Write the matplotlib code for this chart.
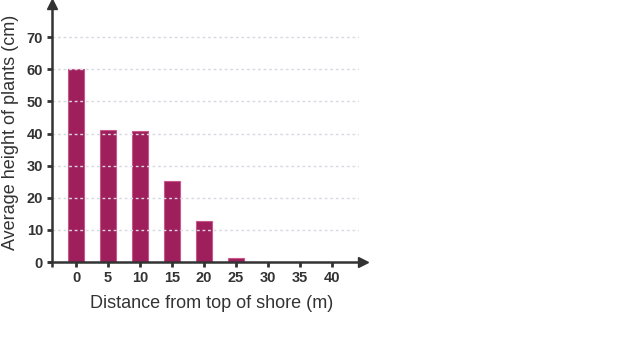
import matplotlib

matplotlib.use("Agg")
import matplotlib.pyplot as plt

# distance from top of shore (m) and average plant height (cm)
distance = [0, 5, 10, 15, 20, 25]
height = [60, 41.1, 40.7, 25.3, 12.8, 1.3]
x_ticks = [0, 5, 10, 15, 20, 25, 30, 35, 40]
y_ticks = [0, 10, 20, 30, 40, 50, 60, 70]

BAR = "#9e1f5b"
AXIS = "#333333"
GRID = "#d9d9e3"

plt.rcParams["font.family"] = ["Liberation Sans", "DejaVu Sans"]

W, H = 624, 351
fig = plt.figure(figsize=(W / 100, H / 100), dpi=100)
# axes box in pixels: left edge = y-axis, bottom = x-axis
x0, x1, y0, y1 = 52, 359, 262, 0
ax = fig.add_axes([x0 / W, 1 - y0 / H, (x1 - x0) / W, (y0 - y1) / H])

xmin, xmax = -3.75, 44.2
ymin, ymax = 0, 81.6
ax.set_xlim(xmin, xmax)
ax.set_ylim(ymin, ymax)

ax.bar(distance, height, width=2.5, color=BAR, edgecolor="#c9578a",
       linewidth=0.8, zorder=2)

for v in y_ticks[1:]:
    ax.plot([xmin, xmax], [v, v], color=GRID, linestyle=(0, (2, 2)),
            linewidth=1, zorder=3)

for s in ax.spines.values():
    s.set_visible(False)

# axis lines with arrowheads
ax.plot([xmin - 0.7, 45.0], [0, 0], color=AXIS, linewidth=1.8,
        clip_on=False, zorder=4, solid_capstyle="butt")
ax.plot([xmin, xmin], [-1.5, 80.5], color=AXIS, linewidth=1.8,
        clip_on=False, zorder=4, solid_capstyle="butt")
ax.plot([44.9], [0], marker=">", markersize=7, color=AXIS,
        clip_on=False, zorder=5)
ax.plot([xmin], [80.2], marker="^", markersize=7, color=AXIS,
        clip_on=False, zorder=5)

ax.set_xticks(x_ticks)
ax.set_yticks(y_ticks)
ax.tick_params(axis="both", direction="out", length=3.5, width=2,
               color=AXIS, labelcolor=AXIS, labelsize=10.5)
ax.tick_params(axis="x", pad=3)
ax.tick_params(axis="y", pad=3)
for lab in ax.get_xticklabels() + ax.get_yticklabels():
    lab.set_fontweight("bold")

fig.text(212 / W, 1 - 303 / H, "Distance from top of shore (m)",
         ha="center", va="center", fontsize=13, color=AXIS)
fig.text(11 / W, 1 - 132 / H, "Average height of plants (cm)",
         ha="center", va="center", rotation=90, fontsize=13, color=AXIS)

fig.savefig("out.png", dpi=100)
